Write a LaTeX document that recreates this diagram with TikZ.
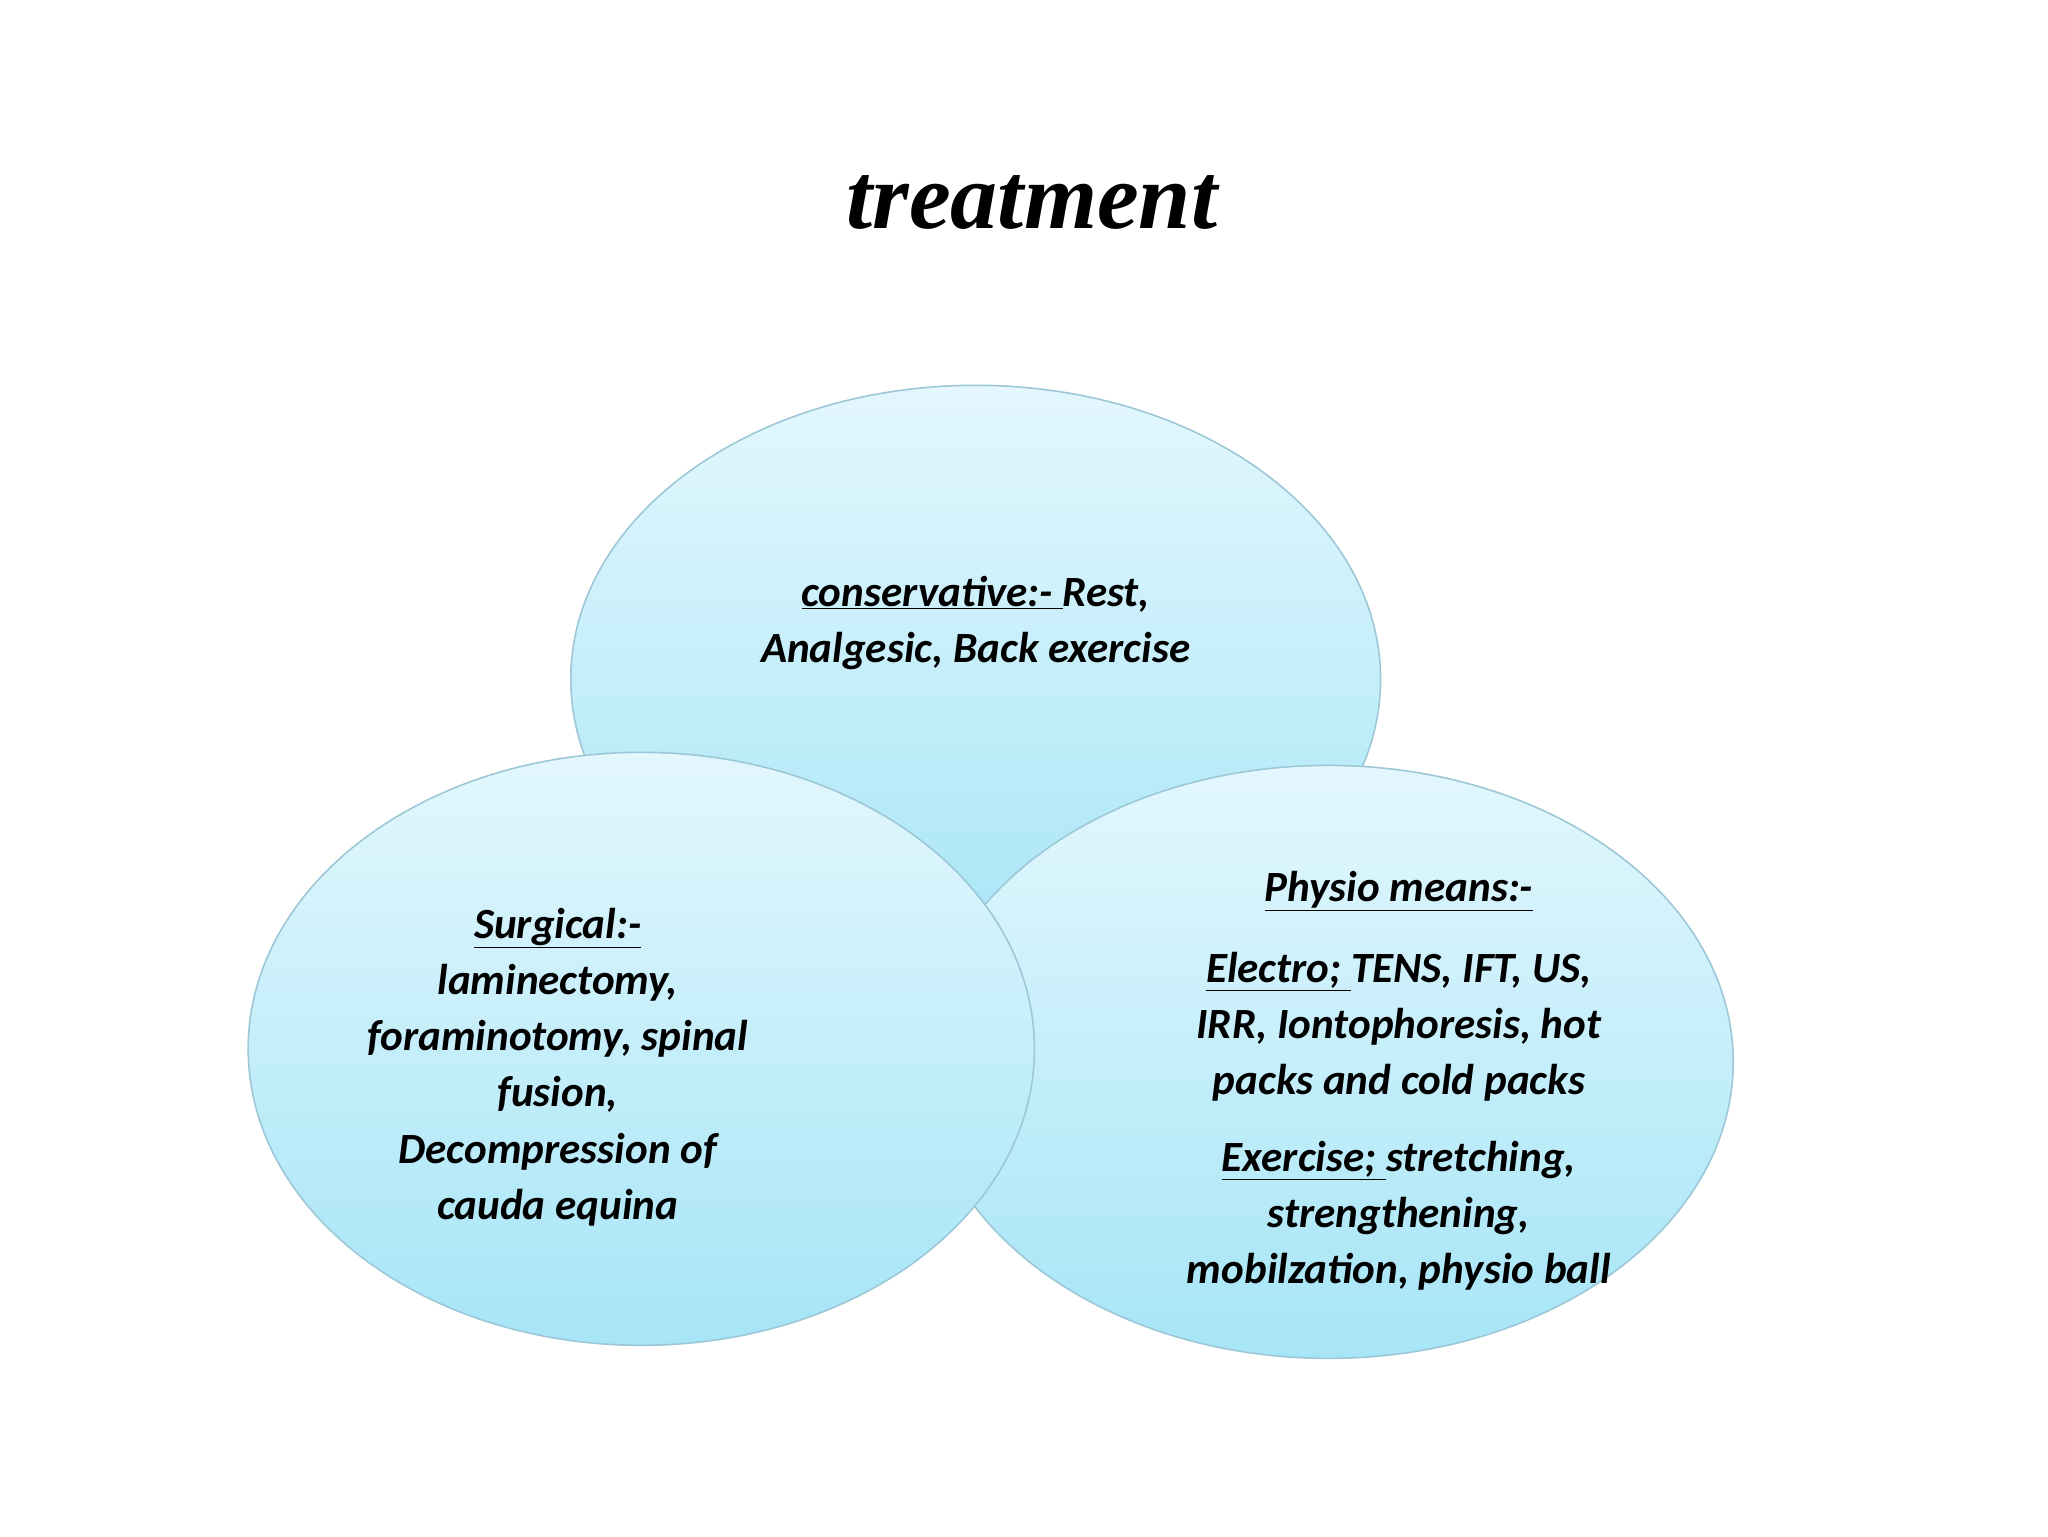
\documentclass[tikz,border=0pt]{standalone}
\usepackage{fontspec}
\setmainfont{Carlito}
\newfontfamily\titlefont{Liberation Serif}
\definecolor{topc}{HTML}{E3F7FD}
\definecolor{botc}{HTML}{A6E5F7}
\definecolor{edge}{HTML}{9CC7D6}
\tikzset{
  bubble/.style={draw=edge,line width=1.2pt,top color=topc,bottom color=botc,shading angle=0},
  txt/.style={align=center,font=\fontsize{33}{43}\selectfont\bfseries\itshape,text=black}
}
\begin{document}
\begin{tikzpicture}[x=1pt,y=-1pt]
\useasboundingbox (0,0) rectangle (1568,1176);
\fill[white] (0,0) rectangle (1568,1176);
\node[font=\titlefont\fontsize{72}{80}\selectfont\bfseries\itshape] (title) at (790,155) {treatment};
\path[bubble] (747,520) ellipse [x radius=310,y radius=225];
\path[bubble] (1017,813) ellipse [x radius=310,y radius=227];
\path[bubble] (491,803) ellipse [x radius=301,y radius=227];
\node[txt] (cons) at (747,477) {\underline{conservative:- }Rest,\\Analgesic, Back exercise};
\node[txt] (surg) at (427,817) {\underline{Surgical:-}\\laminectomy,\\foraminotomy, spinal\\fusion,\\Decompression of\\cauda equina};
\node[txt] (phys) at (1071,682) {\underline{Physio means:-}};
\node[txt] (elec) at (1071,786) {\underline{Electro; }TENS, IFT, US,\\IRR, Iontophoresis, hot\\packs and cold packs};
\node[txt] (exer) at (1071,931) {\underline{Exercise; }stretching,\\strengthening,\\mobilzation, physio ball};
\end{tikzpicture}
\end{document}
